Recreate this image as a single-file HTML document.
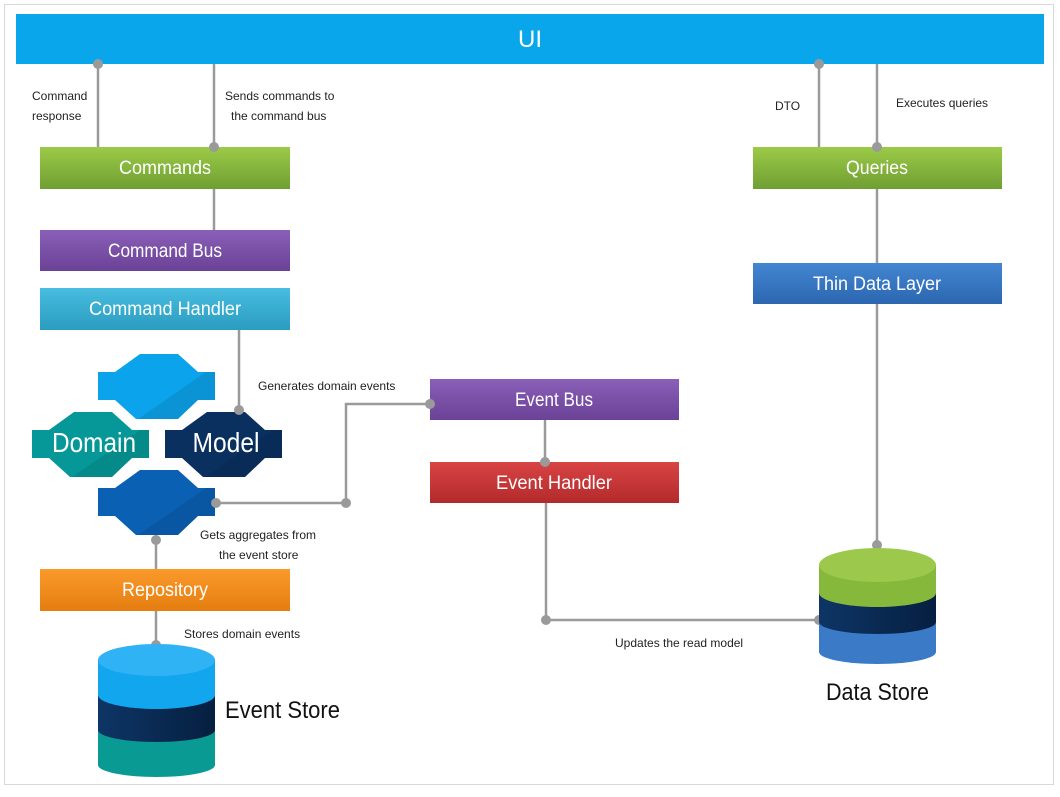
<!DOCTYPE html>
<html><head><meta charset="utf-8"><style>
body{margin:0;background:#fff;width:1060px;height:792px;overflow:hidden;font-family:"Liberation Sans",sans-serif}
</style></head><body>
<svg width="1060" height="792" xmlns="http://www.w3.org/2000/svg" font-family="Liberation Sans, sans-serif">
<defs>
<linearGradient id="g" x1="0" y1="0" x2="0" y2="1"><stop offset="0" stop-color="#9ccb48"/><stop offset="1" stop-color="#6f9e33"/></linearGradient>
<linearGradient id="p" x1="0" y1="0" x2="0" y2="1"><stop offset="0" stop-color="#8a5fb8"/><stop offset="1" stop-color="#6a4296"/></linearGradient>
<linearGradient id="t" x1="0" y1="0" x2="0" y2="1"><stop offset="0" stop-color="#48bde0"/><stop offset="1" stop-color="#2a9cc0"/></linearGradient>
<linearGradient id="o" x1="0" y1="0" x2="0" y2="1"><stop offset="0" stop-color="#fa9a2a"/><stop offset="1" stop-color="#e57d10"/></linearGradient>
<linearGradient id="b" x1="0" y1="0" x2="0" y2="1"><stop offset="0" stop-color="#4386d2"/><stop offset="1" stop-color="#2c66b0"/></linearGradient>
<linearGradient id="r" x1="0" y1="0" x2="0" y2="1"><stop offset="0" stop-color="#d84444"/><stop offset="1" stop-color="#b32a2c"/></linearGradient>
<linearGradient id="nv" x1="0" y1="0" x2="1" y2="0"><stop offset="0" stop-color="#0e3566"/><stop offset="1" stop-color="#061f40"/></linearGradient>
<polygon id="hx" points="0,18 17,18 42,0 80,0 100,18 117,18 117,46 100,46 80,65 38,65 17,46 0,46"/>
<polygon id="hs" points="40,65 108,18 117,18 117,46 100,46 80,65" fill="#000" fill-opacity="0.09"/>
</defs>
<rect x="4.5" y="4.5" width="1049" height="780" fill="#fff" stroke="#d8d8d8"/>
<rect x="16" y="14" width="1028" height="50" fill="#0aa6ec"/>
<text x="530" y="47" fill="#fff" font-size="24" text-anchor="middle">UI</text>
<g stroke="#9a9a9a" stroke-width="2.5" fill="none">
<path d="M98 64V147M214 64V230M239 330V410M216 503H346V404H430M545 420V462M546 503V620H819M819 64V147M877 64V147M877 189V545M156 518V569M156 611V645"/>
</g>
<g font-size="19" fill="#fff" text-anchor="middle">
<rect x="40" y="147" width="250" height="42" fill="url(#g)"/><text x="165" y="174" textLength="92" lengthAdjust="spacingAndGlyphs">Commands</text>
<rect x="40" y="230" width="250" height="41" fill="url(#p)"/><text x="165" y="257" textLength="114" lengthAdjust="spacingAndGlyphs">Command Bus</text>
<rect x="40" y="288" width="250" height="42" fill="url(#t)"/><text x="165" y="315" textLength="152" lengthAdjust="spacingAndGlyphs">Command Handler</text>
<rect x="40" y="569" width="250" height="42" fill="url(#o)"/><text x="165" y="596" textLength="86" lengthAdjust="spacingAndGlyphs">Repository</text>
<rect x="753" y="147" width="249" height="42" fill="url(#g)"/><text x="877" y="174" textLength="62" lengthAdjust="spacingAndGlyphs">Queries</text>
<rect x="753" y="263" width="249" height="41" fill="url(#b)"/><text x="877" y="290" textLength="128" lengthAdjust="spacingAndGlyphs">Thin Data Layer</text>
<rect x="430" y="379" width="249" height="41" fill="url(#p)"/><text x="554" y="406" textLength="78" lengthAdjust="spacingAndGlyphs">Event Bus</text>
<rect x="430" y="462" width="249" height="41" fill="url(#r)"/><text x="554" y="489" textLength="116" lengthAdjust="spacingAndGlyphs">Event Handler</text>
</g>
<g transform="translate(98,354)"><use href="#hx" fill="#0ba3ec"/><use href="#hs"/></g>
<g transform="translate(32,412)"><use href="#hx" fill="#069898"/><use href="#hs"/></g>
<g transform="translate(165,412)"><use href="#hx" fill="#0a3060"/><use href="#hs"/></g>
<g transform="translate(98,470)"><use href="#hx" fill="#0a60b2"/><use href="#hs"/></g>
<g fill="#9a9a9a">
<circle cx="98" cy="64" r="5"/><circle cx="214" cy="147" r="5"/><circle cx="239" cy="410" r="5"/><circle cx="346" cy="503" r="5"/><circle cx="430" cy="404" r="5"/><circle cx="216" cy="503" r="5"/><circle cx="545" cy="462" r="5"/><circle cx="546" cy="620" r="5"/><circle cx="819" cy="620" r="5"/><circle cx="819" cy="64" r="5"/><circle cx="877" cy="147" r="5"/><circle cx="877" cy="545" r="5"/><circle cx="156" cy="540" r="5"/><circle cx="156" cy="645" r="5"/>
</g>
<text x="94" y="452" font-size="28" fill="#fff" text-anchor="middle" textLength="84" lengthAdjust="spacingAndGlyphs">Domain</text>
<text x="226" y="452" font-size="28" fill="#fff" text-anchor="middle" textLength="67" lengthAdjust="spacingAndGlyphs">Model</text>
<path d="M98 730v35a58.5 12 0 0 0 117 0v-35z" fill="#0a9a94"/>
<path d="M98 695v35a58.5 12 0 0 0 117 0v-35z" fill="url(#nv)"/>
<path d="M98 660v35a58.5 14 0 0 0 117 0v-35z" fill="#12a6ef"/>
<ellipse cx="156.5" cy="660" rx="58.5" ry="16" fill="#2fb3f5"/>
<path d="M819 620v32a58.5 12 0 0 0 117 0v-32z" fill="#3b7ac6"/>
<path d="M819 592v30a58.5 12 0 0 0 117 0v-30z" fill="url(#nv)"/>
<path d="M819 565v28a58.5 14 0 0 0 117 0v-28z" fill="#86b83c"/>
<ellipse cx="877.5" cy="565" rx="58.5" ry="17" fill="#9cc94c"/>
<text x="225" y="718" font-size="24" fill="#111" textLength="115" lengthAdjust="spacingAndGlyphs">Event Store</text>
<text x="826" y="700" font-size="24" fill="#111" textLength="103" lengthAdjust="spacingAndGlyphs">Data Store</text>
<g font-size="12" fill="#222">
<text x="32" y="100">Command</text><text x="32" y="120">response</text>
<text x="225" y="100">Sends commands to</text><text x="231" y="120">the command bus</text>
<text x="775" y="110">DTO</text>
<text x="896" y="107">Executes queries</text>
<text x="258" y="390">Generates domain events</text>
<text x="200" y="539">Gets aggregates from</text><text x="219" y="559">the event store</text>
<text x="184" y="638">Stores domain events</text>
<text x="615" y="647">Updates the read model</text>
</g>
</svg>
</body></html>
